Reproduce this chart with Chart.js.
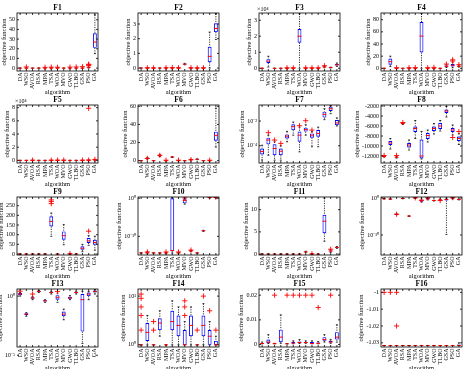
<!DOCTYPE html>
<html><head><meta charset="utf-8">
<script src="https://cdn.jsdelivr.net/npm/chart.js@4/dist/chart.umd.min.js"></script>
<style>
html,body{margin:0;padding:0;background:#fff;width:474px;height:369px;overflow:hidden;position:relative}
canvas{position:absolute}
</style></head><body>
<script>
const categories = ['DA','WSO','AVOA','RSA','MPA','TSA','WOA','MVO','GWO','TLBO','GSA','PSO','GA'];
const Z = [0,0,0,0,0];
// each box: [lower whisker, q1, median, q3, upper whisker]
const F1_STATS = [Z,Z,Z,Z,Z,Z,Z,Z,Z,Z,Z,[0,0.3,0.8,1.5,3],[15,21,27,36,55]];
const F1_OUTLIERS = [[],[1.2],[],[],[0.8],[1],[0.9],[],[1],[1.2],[1.5],[2.5,3.5,4],[]];
const F1_TICKS = [0,10,20,30,40,50];
const F1_RANGE = [-3,57];

const F2_STATS = [Z,Z,Z,Z,Z,Z,Z,[0.22,0.25,0.27,0.29,0.32],Z,Z,Z,[0,0.4,0.8,1.45,2.45],[1.95,2.45,2.7,3.05,3.7]];
const F2_OUTLIERS = [[],[0.02],[0.01],[],[0.02],[0.03],[0.02],[],[0.02],[0.01],[0.02],[],[]];
const F2_TICKS = [0,1,2,3];
const F2_RANGE = [-0.2,3.75];

const F3_STATS = [Z,[800,3300,4500,5700,7500],Z,Z,Z,Z,[0,16000,20000,24500,34000],Z,Z,Z,[400,700,900,1100,1400],[200,350,450,550,700],[1200,1700,2200,2700,3300]];
const F3_OUTLIERS = [[],[],[],[],[300],[300],[],[300],[300],[300],[1600],[],[]];
const F3_TICKS = [0,10000,20000,30000];
const F3_RANGE = [-1700,34500];

const F4_STATS = [Z,[3,6,11,16,20],Z,Z,Z,Z,[0,26,53,76,90],Z,Z,Z,[1.5,2.5,3.5,4.5,6],[1,3,5,7,10],[2,3,3.5,4,5]];
const F4_OUTLIERS = [[],[],[1],[],[1],[1.2],[],[1],[1.5],[],[7],[14,12],[6]];
const F4_TICKS = [0,20,40,60,80];
const F4_RANGE = [-4.4,91];

const F5_STATS = [Z,Z,Z,Z,Z,Z,Z,Z,Z,Z,Z,[0,100,200,300,500],[200,400,600,800,1000]];
const F5_OUTLIERS = [[],[],[300],[],[],[300],[300],[400],[],[],[300],[500,79000],[1500]];
const F5_TICKS = [0,20000,40000,60000,80000];
const F5_RANGE = [-4000,84000];

const F6_STATS = [Z,[1.5,2,2.5,3,3.5],Z,[4.5,5,5.5,6,6.5],Z,[3.5,3.8,4,4.2,4.5],Z,Z,[0.5,0.8,1,1.2,1.5],[1,1.3,1.5,1.7,2],Z,Z,[15,22,28,32,58]];
const F6_OUTLIERS = [[],[2.5],[],[6],[0.5],[],[0.5],[],[1],[],[],[0.5],[]];
const F6_TICKS = [0,20,40,60];
const F6_RANGE = [-2.6,61.5];

const F7_STATS = [
 [6.8e-6,1.95e-5,3.5e-5,6.0e-5,1.1e-4],
 [1.7e-5,1.3e-4,2.9e-4,4.5e-4,7.2e-4],
 [6.8e-6,1.7e-5,6.0e-5,1.3e-4,2.1e-4],
 [6.8e-6,1.7e-5,3.6e-5,6.0e-5,1.0e-4],
 [2.1e-4,3.9e-4,6.0e-4,8.3e-4,1.45e-3],
 [7.2e-4,1.85e-3,3.5e-3,5.4e-3,8.3e-3],
 [3.2e-5,2.1e-4,7.2e-4,1.4e-3,3.2e-3],
 [7.2e-4,1.4e-3,2.0e-3,2.9e-3,5.0e-3],
 [8.3e-5,4.5e-4,7.2e-4,1.0e-3,1.4e-3],
 [8.3e-5,5.4e-4,1.0e-3,1.85e-3,3.2e-3],
 [1.3e-2,1.9e-2,3.5e-2,5.8e-2,0.1],
 [4.0e-2,6.5e-2,0.1,0.15,0.18],
 [4.0e-3,4.7e-3,7.0e-3,1.2e-2,1.8e-2]];
const F7_OUTLIERS = [[],[1.15e-3],[2.9e-4],[1.55e-4],[],[],[4.2e-3],[1.07e-2],[1.85e-3],[],[],[0.22],[]];
const F7_TICKS = [1e-4,1e-2];
const F7_RANGE = [4e-6,0.2];

const F8_STATS = [
 [-12200,-12150,-12100,-12050,-12000],
 [-10600,-9800,-9400,-9000,-8500],
 [-12400,-12300,-12250,-12200,-12100],
 [-5700,-5600,-5500,-5450,-5400],
 [-10800,-10300,-9800,-9400,-8800],
 [-8500,-7200,-6500,-6100,-4900],
 [-12600,-12500,-12000,-8700,-7100],
 [-9200,-8600,-7900,-7400,-6800],
 [-7600,-7000,-6500,-6100,-5500],
 [-7000,-6600,-6000,-5400,-4900],
 [-4200,-3400,-3000,-2700,-2100],
 [-7800,-7200,-6800,-6400,-5800],
 [-9700,-9000,-8500,-8100,-7500]];
const F8_OUTLIERS = [[-11900],[],[-11900],[-5300],[],[],[],[],[],[],[],[-8300],[-7100]];
const F8_TICKS = [-12000,-10000,-8000,-6000,-4000,-2000];
const F8_RANGE = [-13400,-1800];

const F9_STATS = [Z,Z,Z,Z,Z,[92,143,169,195,212],Z,[48,74,95,117,152],Z,Z,[12,22,30,40,50],[45,57,68,83,95],[20,48,60,74,92]];
const F9_OUTLIERS = [[],[],[],[],[],[261,272,280],[],[],[2],[],[],[118],[]];
const F9_TICKS = [0,50,100,150,200,250];
const F9_RANGE = [-5,295];

const E = 4.44e-15;
const F10_STATS = [[E,E,E,E,E],[E,E,E,6e-15,8e-15],[E,E,E,E,E],[E,E,E,E,E],[E,E,E,E,E],[E,1.3e-14,2e-14,1,1.5],[E,E,E,E,E],[0.03,0.05,0.3,0.55,0.8],[1.1e-14,1.3e-14,1.5e-14,1.8e-14,2.2e-14],[E,E,E,E,E],[2e-9,2.5e-9,3e-9,3.5e-9,4e-9],[1.2,1.5,1.7,1.9,2],[1.3,1.5,1.6,1.7,1.8]];
const F10_OUTLIERS = [[],[7.99e-15],[],[],[7.99e-15],[],[7.99e-15],[1.3],[2.5e-14],[],[],[2.2],[2]];
const F10_TICKS = [1e-10,1];
const F10_RANGE = [1.26e-15,2.24];

const F11_STATS = [Z,Z,Z,Z,Z,Z,Z,[0.35,0.45,0.5,0.55,0.65],Z,Z,[2.9,4.7,7.4,8.85,12.6],[0.4,0.6,0.7,0.8,1.0],[1.3,1.4,1.5,1.55,1.7]];
const F11_OUTLIERS = [[],[],[],[],[],[],[],[],[0.05],[],[],[1.1],[]];
const F11_TICKS = [0,5,10];
const F11_RANGE = [-0.2,12.85];

const F12_STATS = [[0.5,0.55,0.6,0.65,0.7],[0.4,0.45,0.5,0.55,0.6],[3e-5,3.5e-5,4e-5,4.5e-5,5e-5],[0.6,0.65,0.7,0.75,0.8],[1.1e-5,1.2e-5,1.3e-5,1.4e-5,1.5e-5],[0.8,0.9,1,1.1,1.2],[0.08,0.1,0.2,0.3,0.5],[0.3,0.4,0.6,0.9,1.1],[0.15,0.18,0.2,0.22,0.25],[0.2,0.25,0.3,0.35,0.4],[1.5e-10,0.2,0.4,0.6,0.9],[0.5,0.7,0.9,1.1,1.3],[0.3,0.35,0.4,0.45,0.5]];
const F12_OUTLIERS = [[],[],[4e-5],[],[],[1.1],[0.25],[1.2],[],[0.2],[],[1.2],[]];
const F12_TICKS = [1e-10,1];
const F12_RANGE = [4e-16,1.8];

const F13_STATS = [[1,1.2,1.5,1.8,2],[0.02,0.025,0.03,0.035,0.04],[0.5,0.6,0.7,0.8,0.9],[2,2.2,2.5,2.8,3],[0.3,0.35,0.4,0.45,0.5],[1.5,1.8,2,2.2,2.5],[0.3,0.5,0.8,1.2,1.8],[0.01,0.02,0.03,0.05,0.08],[0.5,0.6,0.7,0.9,1.1],[1.5,1.8,2,2.3,2.6],[1e-4,1e-3,0.5,1.5,2.5],[0.5,1,1.5,2,2.5],[1.5,2,2.5,3,3.5]];
const F13_OUTLIERS = [[2.6],[],[1.5],[],[],[],[2.5],[],[],[],[],[],[]];
const F13_TICKS = [1e-5,1];
const F13_RANGE = [5e-5,4];

const F14_STATS = [[0.998,0.998,0.998,0.998,0.998],[0.998,1.2,1.8,2.8,4],[0.998,0.998,0.998,0.998,0.998],[1.5,2,2.8,3.5,5],[0.998,0.998,0.998,0.998,0.998],[1,2,3,5,8],[0.998,1.5,2.5,4,6],[0.998,0.998,1,2,3],[0.998,1.5,2.5,4,6],[0.998,0.998,0.998,0.998,0.998],[1,1.5,2.5,4,7],[0.998,0.998,1.5,2,3],[0.998,0.998,0.998,1.2,1.5]];
const F14_OUTLIERS = [[2,4,6,9,11],[],[2,3],[],[],[],[],[4,6,8],[],[2],[10],[5],[2]];
const F14_TICKS = [1,10];
const F14_RANGE = [0.9,14];

const F15_STATS = [[3e-4,3e-4,4e-4,6e-4,1e-3],[4e-4,6e-4,1e-3,2e-3,4e-3],[3e-4,3e-4,3.5e-4,4e-4,5e-4],[5e-4,1e-3,3e-3,6e-3,1.2e-2],[3e-4,3e-4,3e-4,3e-4,3e-4],[3e-4,4e-4,6e-4,1e-3,1.5e-3],[4e-4,6e-4,8e-4,1.2e-3,2e-3],[5e-4,6e-4,8e-4,1e-3,1.5e-3],[3e-4,3e-4,4e-4,1e-3,1.5e-3],[3e-4,4e-4,5e-4,8e-4,1.2e-3],[1e-3,1.5e-3,2e-3,3e-3,4e-3],[5e-4,8e-4,1e-3,1.5e-3,2e-3],[1e-3,2e-3,3e-3,5e-3,8e-3]];
const F15_OUTLIERS = [[],[],[2.0e-2],[],[2.0e-2],[2.0e-2],[2.0e-2],[2.0e-2],[2.0e-2],[1.5e-2],[],[2.0e-2],[]];
const F15_TICKS = [0,0.01,0.02];
const F15_RANGE = [-0.001,0.0225];

const M = -1.0316;
const F16_STATS = [[M,M,M,M,M],[M,M,M,M,M],[M,M,M,M,M],[M,M,M,M,M],[M,M,M,M,M],[M,M,M,M,M],[M,M,M,M,M],[M,M,M,M,M],[M,M,M,M,M],[M,M,M,M,M],[M,M,M,M,M],[M,M,M,M,M],[M,M,M,-1.031,-1.03]];
const F16_OUTLIERS = [[-1.0],[-1.0],[-1.0,-1.02],[],[],[],[],[],[],[],[],[],[]];
const F16_TICKS = [-1.03,-1.02,-1.01,-1];
const F16_RANGE = [-1.0325,-0.998];

const panels = [
 {title:'F1', stats:F1_STATS, out:F1_OUTLIERS, ticks:F1_TICKS, range:F1_RANGE, type:'linear', factor:1, exp:''},
 {title:'F2', stats:F2_STATS, out:F2_OUTLIERS, ticks:F2_TICKS, range:F2_RANGE, type:'linear', factor:1, exp:''},
 {title:'F3', stats:F3_STATS, out:F3_OUTLIERS, ticks:F3_TICKS, range:F3_RANGE, type:'linear', factor:1e4, exp:'×10⁴'},
 {title:'F4', stats:F4_STATS, out:F4_OUTLIERS, ticks:F4_TICKS, range:F4_RANGE, type:'linear', factor:1, exp:''},
 {title:'F5', stats:F5_STATS, out:F5_OUTLIERS, ticks:F5_TICKS, range:F5_RANGE, type:'linear', factor:1e4, exp:'×10⁴'},
 {title:'F6', stats:F6_STATS, out:F6_OUTLIERS, ticks:F6_TICKS, range:F6_RANGE, type:'linear', factor:1, exp:''},
 {title:'F7', stats:F7_STATS, out:F7_OUTLIERS, ticks:F7_TICKS, range:F7_RANGE, type:'logarithmic', factor:1, exp:''},
 {title:'F8', stats:F8_STATS, out:F8_OUTLIERS, ticks:F8_TICKS, range:F8_RANGE, type:'linear', factor:1, exp:''},
 {title:'F9', stats:F9_STATS, out:F9_OUTLIERS, ticks:F9_TICKS, range:F9_RANGE, type:'linear', factor:1, exp:''},
 {title:'F10', stats:F10_STATS, out:F10_OUTLIERS, ticks:F10_TICKS, range:F10_RANGE, type:'logarithmic', factor:1, exp:''},
 {title:'F11', stats:F11_STATS, out:F11_OUTLIERS, ticks:F11_TICKS, range:F11_RANGE, type:'linear', factor:1, exp:''},
 {title:'F12', stats:F12_STATS, out:F12_OUTLIERS, ticks:F12_TICKS, range:F12_RANGE, type:'logarithmic', factor:1, exp:''},
 {title:'F13', stats:F13_STATS, out:F13_OUTLIERS, ticks:F13_TICKS, range:F13_RANGE, type:'logarithmic', factor:1, exp:''},
 {title:'F14', stats:F14_STATS, out:F14_OUTLIERS, ticks:F14_TICKS, range:F14_RANGE, type:'logarithmic', factor:1, exp:''},
 {title:'F15', stats:F15_STATS, out:F15_OUTLIERS, ticks:F15_TICKS, range:F15_RANGE, type:'linear', factor:1, exp:''},
 {title:'F16', stats:F16_STATS, out:F16_OUTLIERS, ticks:F16_TICKS, range:F16_RANGE, type:'linear', factor:1, exp:''}
];

// ---- layout (pixels) ----
const COLS = [17,138,259,381], ROWS = [13,105,197,289];
const PW = 81, PH = 58, AXW = 34, TOP = 13, PADR = 8, CH = 100;
const CW = AXW + PW + PADR;
const FONT = '"Liberation Serif", "Times New Roman", serif';
const BLUE = '#0000ff', RED = '#ff0000';

const SUP = {'-':'⁻','0':'⁰','1':'¹','2':'²','3':'³','4':'⁴','5':'⁵','6':'⁶','7':'⁷','8':'⁸','9':'⁹'};
function logLabel(v){ const e = Math.round(Math.log10(v)); return '10' + String(e).split('').map(c=>SUP[c]).join(''); }
function linLabel(v, f){ const r = v / f; return String(Math.round(r*10000)/10000); }

const framePlugin = {
  id:'frame',
  afterDraw(chart, args, opts){
    const {ctx, chartArea:a, scales} = chart;
    const p = opts.panel;
    const ys = scales.y, xs = scales.x;
    ctx.save();
    ctx.strokeStyle = '#000'; ctx.lineWidth = 0.8;
    ctx.strokeRect(a.left, a.top, a.right - a.left, a.bottom - a.top);
    ctx.beginPath();
    ys.ticks.forEach(t => { const y = ys.getPixelForValue(t.value); ctx.moveTo(a.left, y); ctx.lineTo(a.left + 2, y); ctx.moveTo(a.right, y); ctx.lineTo(a.right - 2, y); });
    xs.ticks.forEach((t, i) => { const x = xs.getPixelForTick(i); ctx.moveTo(x, a.bottom); ctx.lineTo(x, a.bottom - 2); ctx.moveTo(x, a.top); ctx.lineTo(x, a.top + 2); });
    ctx.stroke();
    ctx.fillStyle = '#000';
    ctx.font = 'bold 7.5px ' + FONT;
    ctx.textAlign = 'center'; ctx.textBaseline = 'bottom';
    ctx.fillText(p.title, (a.left + a.right) / 2, a.top - 1);
    if (p.exp) { ctx.font = '6px ' + FONT; ctx.textAlign = 'left'; ctx.fillText(p.exp, a.left - 2, a.top - 1); }
    ctx.font = '6px ' + FONT;
    let w = 0; ys.ticks.forEach(t => { w = Math.max(w, ctx.measureText(t.label).width); });
    ctx.save();
    ctx.translate(a.left - w - 2 - 5, (a.top + a.bottom) / 2);
    ctx.rotate(-Math.PI / 2);
    ctx.textAlign = 'center'; ctx.textBaseline = 'middle';
    ctx.font = '6.5px ' + FONT;
    ctx.fillText('objective function', 0, 0);
    ctx.restore();
    ctx.font = '6.5px ' + FONT;
    ctx.textAlign = 'center'; ctx.textBaseline = 'middle';
    ctx.fillText('algorithm', (a.left + a.right) / 2, a.bottom + 21);
    ctx.restore();
  }
};

function buildConfig(p){
  const whisk = [], caps = [], boxes = [], meds = [], outs = [];
  p.stats.forEach((s, i) => {
    const c = categories[i];
    whisk.push({x:c, y:s[4]}, {x:c, y:s[3]}, {x:c, y:null}, {x:c, y:s[1]}, {x:c, y:s[0]}, {x:c, y:null});
    caps.push({x:c, y:s[0]}, {x:c, y:s[4]});
    boxes.push([s[1], s[3]]);
    meds.push({x:c, y:s[2]});
    p.out[i].forEach(v => outs.push({x:c, y:v}));
  });
  return {
    type:'bar',
    data:{
      labels:categories,
      datasets:[
        {type:'line', data:outs, showLine:false, pointStyle:'cross', pointRadius:2.6, borderColor:RED, borderWidth:0.9, order:0},
        {type:'line', data:meds, showLine:false, pointStyle:'line', pointRadius:1.9, borderColor:RED, borderWidth:1, order:1},
        {type:'bar', data:boxes, backgroundColor:'rgba(0,0,0,0)', borderColor:BLUE, borderWidth:0.9, borderSkipped:false, barPercentage:0.62, categoryPercentage:1, order:2},
        {type:'line', data:caps, showLine:false, pointStyle:'line', pointRadius:1, borderColor:'#000', borderWidth:0.8, order:3},
        {type:'line', data:whisk, spanGaps:false, borderColor:'#000', borderWidth:0.8, borderDash:[1.2,1.2], pointRadius:0, order:4}
      ]
    },
    options:{
      responsive:false, animation:false, devicePixelRatio:1,
      layout:{padding:{left:0, top:TOP, right:PADR, bottom:0}},
      plugins:{legend:{display:false}, tooltip:{enabled:false}, frame:{panel:p}},
      scales:{
        x:{type:'category', offset:true, grid:{display:false, drawTicks:false}, border:{display:false},
           ticks:{autoSkip:false, minRotation:90, maxRotation:90, padding:1.5, color:'#000', font:{family:FONT, size:6}},
           afterFit(s){ s.height = CH - TOP - PH; }},
        y:{type:p.type, min:p.range[0], max:p.range[1], grid:{display:false, drawTicks:false}, border:{display:false},
           ticks:{padding:2, color:'#000', autoSkip:false, font:{family:FONT, size:6},
             callback:(v)=> p.type === 'logarithmic' ? logLabel(v) : linLabel(v, p.factor)},
           afterBuildTicks(s){ s.ticks = p.ticks.map(v => ({value:v})); },
           afterFit(s){ s.width = AXW; }}
      }
    },
    plugins:[framePlugin]
  };
}

panels.forEach((p, k) => {
  const c = document.createElement('canvas');
  const left = COLS[k % 4] - AXW, top = ROWS[Math.floor(k / 4)] - TOP;
  c.width = CW; c.height = CH;
  c.style.left = left + 'px'; c.style.top = top + 'px';
  c.style.width = CW + 'px'; c.style.height = CH + 'px';
  document.body.appendChild(c);
  new Chart(c, buildConfig(p));
});
</script>
</body></html>
